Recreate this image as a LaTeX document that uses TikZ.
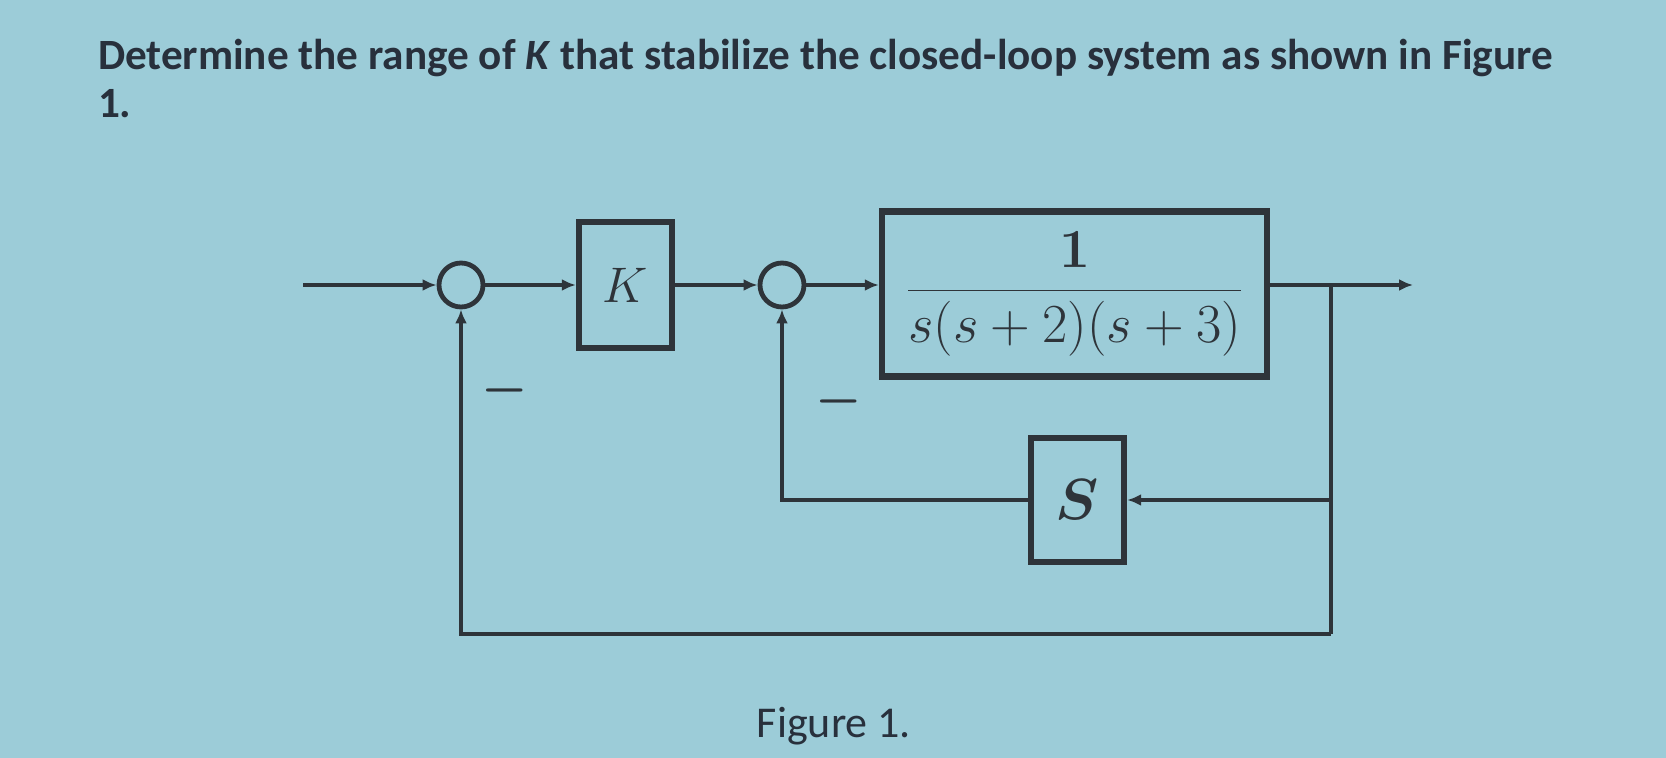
\RequirePackage{fix-cm}
\documentclass[tikz,border=0pt]{standalone}
\usepackage{fontspec}
\setmainfont{Carlito}
\usepackage{bm}
\usetikzlibrary{arrows.meta}
\definecolor{bg}{RGB}{156,204,216}
\definecolor{ink}{RGB}{46,52,58}
\definecolor{tink}{RGB}{40,48,60}
\tikzset{
  wire/.style={draw=ink, line width=2.2pt},
  arr/.style={wire, -{Latex[length=7pt,width=6pt]}},
  blockbox/.style={draw=ink, line width=3.2pt, inner sep=0pt, text=ink},
  sumnode/.style={draw=ink, line width=2.4pt, circle, minimum size=22pt, inner sep=0pt},
  ttext/.style={text=tink, font=\fontsize{21.6}{25}\selectfont\bfseries},
  minus/.style={text=ink, font=\fontsize{26}{30}\selectfont},
}
\begin{document}
\begin{tikzpicture}[x=0.5pt,y=-0.5pt]
\fill[bg] (0,0) rectangle (1666,758);
\useasboundingbox (0,0) rectangle (1666,758);

\node[ttext, anchor=base west] (title) at (91,70) {Determine the range of \textit{K} that stabilize the closed-loop system as shown in Figure};
\node[ttext, anchor=base west] (title2) at (91,118) {1.};

\coordinate (in) at (303,285);
\node[sumnode] (s1) at (461,285) {};
\node[blockbox, minimum width=46.5pt, minimum height=63pt, font=\fontsize{25}{29}\selectfont] (K) at (625.5,285) {$K$};
\node[sumnode] (s2) at (782,285) {};
\node[blockbox, minimum width=192.5pt, minimum height=82.5pt, font=\fontsize{27.5}{32}\selectfont] (G) at (1074.5,294) {$\displaystyle\frac{\bm{1}}{s(s+2)(s+3)}$};
\node[blockbox, minimum width=46.5pt, minimum height=62pt, font=\fontsize{29}{33}\selectfont] (S) at (1077.5,500) {$\bm{S}$};

\coordinate (b) at (1331,285);
\coordinate (out) at (1413,285);
\coordinate (b2) at (1331,500);
\coordinate (bl) at (1331,634);

\draw[arr] (in) -- (s1.west);
\draw[arr] (s1.east) -- (K.west);
\draw[arr] (K.east) -- (s2.west);
\draw[arr] (s2.east) -- (s2.east -| G.west);
\draw[wire] (b -| G.east) -- (b);
\draw[arr] (b) -- (out);
\draw[wire] (b) -- (bl);
\draw[arr] (b2) -- (S.east);
\draw[arr] (S.west) -- (s2 |- S.west) -- (s2.south);
\draw[arr] (bl) -- (s1 |- bl) -- (s1.south);

\node[minus] (m1) at (505,391) {$\bm{-}$};
\node[minus] (m2) at (839,402) {$\bm{-}$};

\node[text=tink, font=\fontsize{22}{26}\selectfont, anchor=base] (cap) at (834,738) {Figure 1.};
\end{tikzpicture}
\end{document}
